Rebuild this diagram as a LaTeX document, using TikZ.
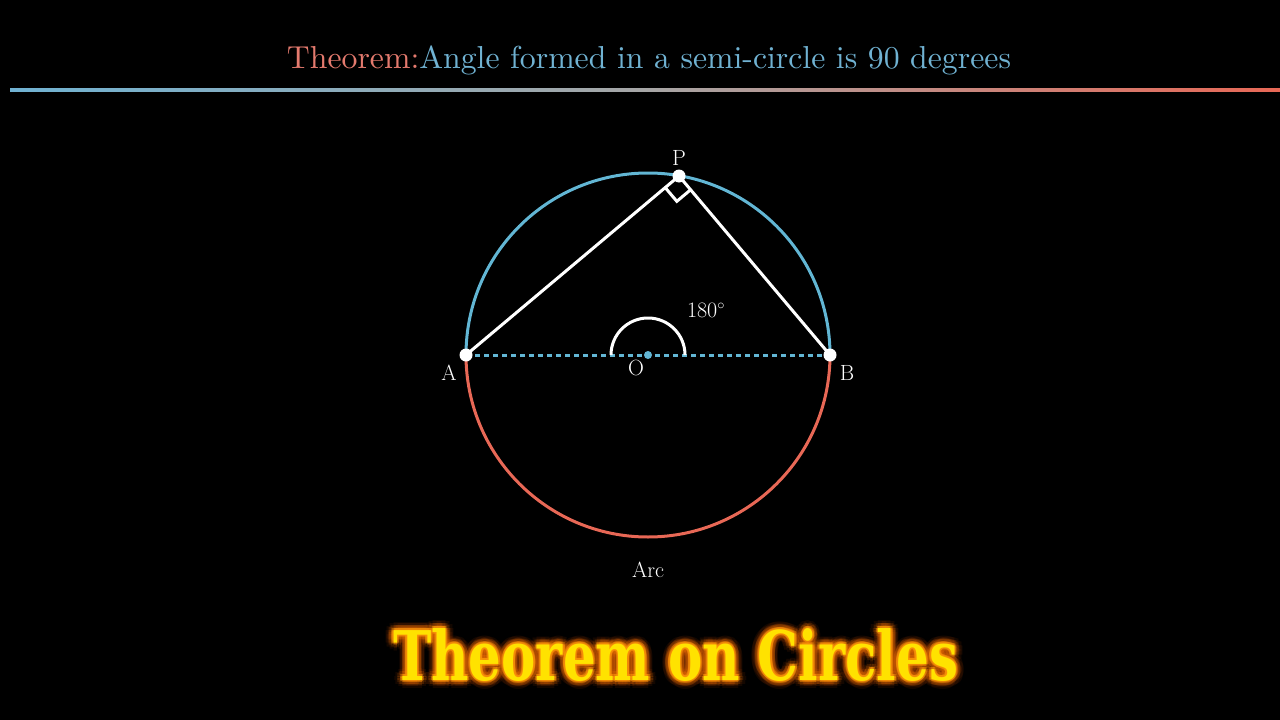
\documentclass[tikz,border=0pt]{standalone}
\usepackage{fontspec}
\usetikzlibrary{calc}
\newfontfamily\bannerfont{DejaVu Serif Condensed}[BoldFont={DejaVu Serif Condensed Bold}]
\definecolor{mblue}{RGB}{98,182,212}
\definecolor{mred}{RGB}{232,104,86}
\definecolor{tred}{RGB}{228,122,110}
\definecolor{tblue}{RGB}{112,178,210}
\definecolor{gold}{RGB}{255,226,0}
\definecolor{glowA}{RGB}{190,70,0}
\definecolor{glowB}{RGB}{235,110,0}
\definecolor{glowC}{RGB}{255,150,10}
\newcommand\bannertext{\resizebox{565pt}{52pt}{\bannerfont\bfseries Theorem on Circles}}
\tikzset{
  dotnode/.style={circle,fill=white,inner sep=0pt,minimum size=13pt},
  odot/.style={circle,fill=mblue,inner sep=0pt,minimum size=8pt},
  lbl/.style={text=white,font=\fontsize{22}{24}\selectfont,inner sep=0pt},
  seg/.style={white,line width=3pt},
  glowtxt/.style={anchor=base west,inner sep=0pt}
}
\begin{document}
\begin{tikzpicture}[x=1pt,y=-1pt]
\useasboundingbox (0,0) rectangle (1280,720);
\fill[black] (0,0) rectangle (1280,720);
% title
\node[anchor=base,inner sep=0pt] (title) at (649,68) {\resizebox{724pt}{!}{\textcolor{tred}{Theorem:}\textcolor{tblue}{Angle formed in a semi-circle is 90 degrees}}};
\shade[left color=tblue,right color=mred,middle color=gray!70] (10,88.5) rectangle (1280,91.5);
% geometry
\coordinate (O) at (648,355);
\coordinate (A) at (466,355);
\coordinate (B) at (830,355);
\coordinate (P) at (679,176);
\draw[mblue,line width=3pt] (A) arc[start angle=180,end angle=360,radius=182];
\draw[mred,line width=3pt] (A) arc[start angle=180,end angle=0,radius=182];
\draw[mblue,line width=3pt,dash pattern=on 5pt off 4pt] (A) -- (B);
\draw[seg] (A) -- (P) -- (B);
\draw[seg] ($(P)!18pt!(A)$) -- ($(P)!18pt!(A)+(P)!18pt!(B)-(P)$) -- ($(P)!18pt!(B)$);
\draw[white,line width=3pt] (611,355) arc[start angle=180,end angle=360,radius=37];
\node[dotnode] (nA) at (A) {};
\node[dotnode] (nB) at (B) {};
\node[dotnode] (nP) at (P) {};
\node[odot] (nO) at (O) {};
% labels
\node[lbl] (lP) at (679,158) {P};
\node[lbl] (lA) at (449,373) {A};
\node[lbl] (lB) at (847,373) {B};
\node[lbl] (lO) at (636,368) {O};
\node[lbl] (l180) at (706,310) {180$^\circ$};
\node[lbl] (lArc) at (648,570) {Arc};
% banner with glow
\foreach \a [count=\i] in {0,30,...,330}{
  \node[glowtxt,text=glowA,text opacity=0.10] (ga\i) at ($(393,680)+(\a:8)$) {\bannertext};
}
\foreach \a [count=\i] in {0,30,...,330}{
  \node[glowtxt,text=glowB,text opacity=0.18] (gb\i) at ($(393,680)+(\a:5)$) {\bannertext};
}
\foreach \a [count=\i] in {0,45,...,315}{
  \node[glowtxt,text=glowC,text opacity=0.45] (gc\i) at ($(393,680)+(\a:2)$) {\bannertext};
}
\node[glowtxt,text=gold] (banner) at (393,680) {\bannertext};
\end{tikzpicture}
\end{document}
